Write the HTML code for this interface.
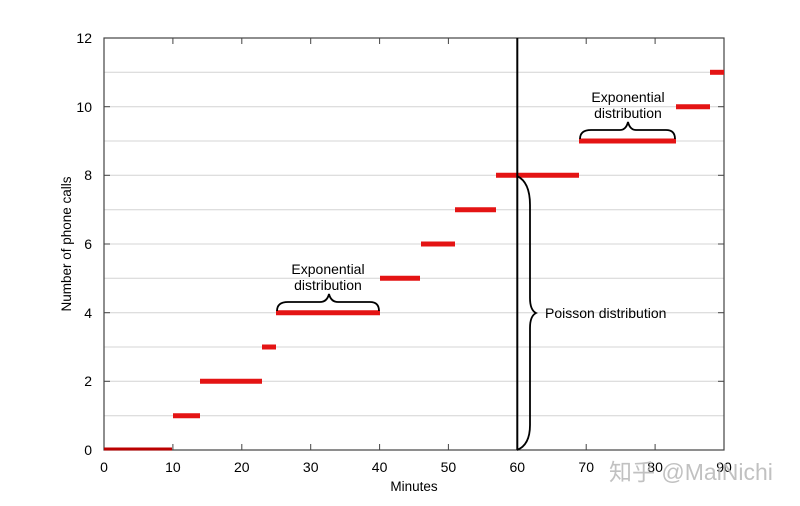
<!DOCTYPE html>
<html><head><style>body{margin:0;background:#fff}svg{display:block}</style></head><body>
<svg width="800" height="506" xmlns="http://www.w3.org/2000/svg" font-family="Liberation Sans, Arial, sans-serif">
<rect width="800" height="506" fill="#fff"/>
<g stroke="#d4d4d4" stroke-width="1">
<line x1="104" x2="724" y1="415.7" y2="415.7"/><line x1="104" x2="724" y1="381.3" y2="381.3"/>
<line x1="104" x2="724" y1="347" y2="347"/><line x1="104" x2="724" y1="312.7" y2="312.7"/>
<line x1="104" x2="724" y1="278.3" y2="278.3"/><line x1="104" x2="724" y1="244" y2="244"/>
<line x1="104" x2="724" y1="209.7" y2="209.7"/><line x1="104" x2="724" y1="175.3" y2="175.3"/>
<line x1="104" x2="724" y1="141" y2="141"/><line x1="104" x2="724" y1="106.7" y2="106.7"/>
<line x1="104" x2="724" y1="72.3" y2="72.3"/>
</g>
<rect x="104" y="38" width="620" height="412" fill="none" stroke="#444" stroke-width="1.2"/>
<g stroke="#444" stroke-width="1">
<line x1="172.9" x2="172.9" y1="450" y2="444"/><line x1="241.8" x2="241.8" y1="450" y2="444"/><line x1="310.7" x2="310.7" y1="450" y2="444"/><line x1="379.6" x2="379.6" y1="450" y2="444"/><line x1="448.4" x2="448.4" y1="450" y2="444"/><line x1="586.2" x2="586.2" y1="450" y2="444"/><line x1="655.1" x2="655.1" y1="450" y2="444"/>
<line x1="172.9" x2="172.9" y1="38" y2="44"/><line x1="241.8" x2="241.8" y1="38" y2="44"/><line x1="310.7" x2="310.7" y1="38" y2="44"/><line x1="379.6" x2="379.6" y1="38" y2="44"/><line x1="448.4" x2="448.4" y1="38" y2="44"/><line x1="586.2" x2="586.2" y1="38" y2="44"/><line x1="655.1" x2="655.1" y1="38" y2="44"/>
<line x1="104" x2="110" y1="381.3" y2="381.3"/><line x1="104" x2="110" y1="312.7" y2="312.7"/><line x1="104" x2="110" y1="244" y2="244"/><line x1="104" x2="110" y1="175.3" y2="175.3"/><line x1="104" x2="110" y1="106.7" y2="106.7"/>
<line x1="724" x2="718" y1="381.3" y2="381.3"/><line x1="724" x2="718" y1="312.7" y2="312.7"/><line x1="724" x2="718" y1="244" y2="244"/><line x1="724" x2="718" y1="175.3" y2="175.3"/><line x1="724" x2="718" y1="106.7" y2="106.7"/>
</g>
<g font-size="14" fill="#000" text-anchor="middle">
<text x="104" y="472">0</text><text x="172.9" y="472">10</text><text x="241.8" y="472">20</text><text x="310.7" y="472">30</text><text x="379.6" y="472">40</text><text x="448.4" y="472">50</text><text x="517.3" y="472">60</text><text x="586.2" y="472">70</text><text x="655.1" y="472">80</text><text x="724" y="472">90</text>
</g>
<g font-size="14" fill="#000" text-anchor="end">
<text x="92" y="455">0</text><text x="92" y="386">2</text><text x="92" y="318">4</text><text x="92" y="249">6</text><text x="92" y="180">8</text><text x="92" y="112">10</text><text x="92" y="43">12</text>
</g>
<text x="414" y="491" font-size="13.5" text-anchor="middle">Minutes</text>
<text transform="translate(71,244) rotate(-90)" font-size="13.5" text-anchor="middle">Number of phone calls</text>
<line x1="104" x2="172" y1="449" y2="449" stroke="#b00" stroke-width="3"/>
<g stroke="#e41414" stroke-width="5">
<line x1="173" x2="200" y1="415.7" y2="415.7"/><line x1="200" x2="262" y1="381.3" y2="381.3"/>
<line x1="262" x2="276" y1="347" y2="347"/><line x1="276" x2="380" y1="312.7" y2="312.7"/>
<line x1="380" x2="420" y1="278.3" y2="278.3"/><line x1="421" x2="455" y1="244" y2="244"/>
<line x1="455" x2="496" y1="209.7" y2="209.7"/><line x1="496" x2="579" y1="175.3" y2="175.3"/>
<line x1="579" x2="676" y1="141" y2="141"/><line x1="676" x2="710" y1="106.7" y2="106.7"/>
<line x1="710" x2="724" y1="72.3" y2="72.3"/>
</g>
<line x1="517.3" x2="517.3" y1="38" y2="450" stroke="#000" stroke-width="2"/>
<g fill="none" stroke="#000" stroke-width="1.8">
<path d="M517,176 Q530,182 530,205 L530,298 Q530,310 536,313 Q530,316 530,328 L530,425 Q530,445 517,450"/>
<path d="M277,311 Q277,302 288,302 L320,302 Q327,302 329,294 Q331,302 338,302 L370,302 Q379,302 379,311"/>
<path d="M580,139 Q580,130 591,130 L620,130 Q626,130 628,122 Q630,130 636,130 L666,130 Q675,130 675,139"/>
</g>
<g font-size="14" fill="#000" text-anchor="middle">
<text x="328" y="274">Exponential</text><text x="328" y="290">distribution</text>
<text x="628" y="102">Exponential</text><text x="628" y="118">distribution</text>
</g>
<text x="545" y="318" font-size="14">Poisson distribution</text>
<text x="609" y="480" font-size="23" fill="#bbb" font-family="Liberation Sans, Noto Sans CJK SC, sans-serif" opacity="0.9">知乎 @MaiNichi</text>
</svg>
</body></html>
